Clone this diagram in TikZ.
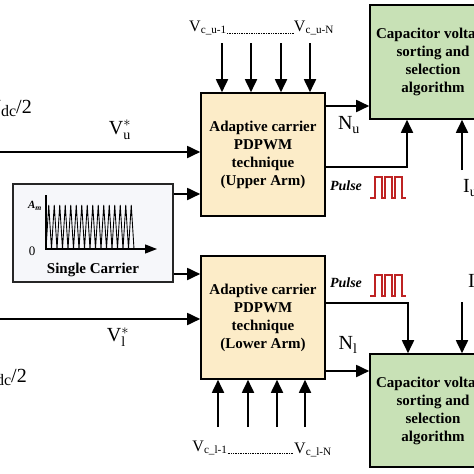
\documentclass[tikz,border=0pt]{standalone}
\usepackage{fontspec}
\setmainfont{Liberation Serif}
\usetikzlibrary{arrows.meta,calc}
\definecolor{yfill}{RGB}{252,236,200}
\definecolor{gfill}{RGB}{200,225,182}
\definecolor{pulsered}{RGB}{190,35,35}
\definecolor{cfill}{RGB}{246,247,250}
\tikzset{
  arr/.style={line width=1.8pt,-{Triangle[length=13pt,width=12pt]}},
  yblock/.style={draw,line width=1.6pt,fill=yfill,minimum width=124pt,minimum height=123pt,inner sep=0pt,align=center,font=\fontsize{15}{18}\selectfont\bfseries},
  gblock/.style={draw,line width=1.6pt,fill=gfill,minimum width=126pt,minimum height=114pt,inner sep=0pt,align=center,font=\fontsize{15}{18}\selectfont\bfseries},
  biglbl/.style={inner sep=0pt,font=\fontsize{20}{22}\selectfont},
  vclbl/.style={inner sep=0pt,font=\fontsize{16}{18}\selectfont},
  pulselbl/.style={inner sep=0pt,font=\fontsize{14}{16}\selectfont\bfseries\itshape},
  wave/.style={pulsered,line width=1.1pt},
}
\newcommand{\dcsub}{\raisebox{-3pt}{\fontsize{16}{16}\selectfont dc}}
\begin{document}
\begin{tikzpicture}[x=1pt,y=-1pt]
\useasboundingbox (0,0) rectangle (474,474);
\clip (0,0) rectangle (474,474);
\fill[white] (0,0) rectangle (474,474);

% main blocks
\node[yblock] (up) at (263,154.5) {Adaptive carrier\\PDPWM\\technique\\(Upper Arm)};
\node[yblock] (lo) at (263,317.5) {Adaptive carrier\\PDPWM\\technique\\(Lower Arm)};
\node[gblock] (gu) at (433,62) {Capacitor voltage\\sorting and\\selection\\algorithm};
\node[gblock,minimum height=113pt] (gl) at (433,410.5) {Capacitor voltage\\sorting and\\selection\\algorithm};

% carrier box
\node[draw=black!85,line width=1.3pt,fill=cfill,minimum width=160pt,minimum height=98pt,inner sep=0pt] (cb) at (93,233) {};
\coordinate (org) at (46,249);
\draw[line width=0.9pt] (org) \foreach \i in {0,...,15} { -- ++(2.75,-44) -- ++(2.75,44) };
\draw[line width=1.3pt,-{Triangle[length=12pt,width=9pt]}] (46,195) -- (org) -- (157,249);
\node[inner sep=0pt,font=\fontsize{11}{12}\selectfont\bfseries\itshape] (am) at (35,206) {A\textsubscript{m}};
\node[inner sep=0pt,font=\fontsize{13}{14}\selectfont] (zero) at (32,251) {0};
\node[inner sep=0pt,font=\fontsize{15}{17}\selectfont\bfseries] (sc) at (93,270) {Single Carrier};

% carrier to blocks
\coordinate (cy1) at (0,194);
\coordinate (cy2) at (0,274);
\draw[arr] (cb.east |- cy1) -- (up.west |- cy1);
\draw[arr] (cb.east |- cy2) -- (lo.west |- cy2);

% reference inputs
\coordinate (vuin) at (0,152);
\coordinate (vlin) at (0,319);
\draw[arr] (vuin) -- (up.west |- vuin);
\draw[arr] (vlin) -- (lo.west |- vlin);
\node[biglbl] (vu) at (120,130) {$\mathrm{V}^{*}_{\mathrm{u}}$};
\node[biglbl] (vl) at (118,337) {$\mathrm{V}^{*}_{\mathrm{l}}$};
\node[biglbl,anchor=east] (vdcu) at (32,108) {V\dcsub/2};
\node[biglbl,anchor=east] (vdcl) at (27,377) {V\dcsub/2};

% capacitor voltage inputs upper
\node[vclbl] (vcu1) at (208,28) {V\textsubscript{c\_u-1}};
\node[vclbl] (vcuN) at (314,28) {V\textsubscript{c\_u-N}};
\draw[densely dotted,line width=0.7pt] ([yshift=-5pt]vcu1.east) -- ([yshift=-5pt]vcuN.west);
\foreach \x [count=\k] in {222,251,281,310} {
  \coordinate (ua\k) at (\x,43);
  \draw[arr] (ua\k) -- (ua\k |- up.north);
}
% capacitor voltage inputs lower
\node[vclbl] (vcl1) at (210,448) {V\textsubscript{c\_l-1}};
\node[vclbl] (vclN) at (313,450) {V\textsubscript{c\_l-N}};
\draw[densely dotted,line width=0.7pt] ([yshift=-5pt]vcl1.east) -- ([yshift=-3pt]vclN.west);
\foreach \x [count=\k] in {218,248,277,305} {
  \coordinate (la\k) at (\x,427);
  \draw[arr] (la\k) -- (la\k |- lo.south);
}

% N outputs
\coordinate (nuy) at (0,106);
\coordinate (nly) at (0,371);
\draw[arr] (up.east |- nuy) -- (gu.west |- nuy);
\draw[arr] (lo.east |- nly) -- (gl.west |- nly);
\node[biglbl] (nu) at (349,125) {N\textsubscript{u}};
\node[biglbl] (nl) at (348,345) {N\textsubscript{l}};

% pulse paths
\coordinate (pu) at (407,167);
\coordinate (pl) at (408,303);
\draw[arr] (up.east |- pu) -- (pu) -- (pu |- gu.south);
\draw[arr] (lo.east |- pl) -- (pl) -- (pl |- gl.north);
\node[pulselbl] (plu) at (346,186) {Pulse};
\node[pulselbl] (pll) at (346,283) {Pulse};
\draw[wave] (370,198) -- (375,198) -- (375,177) -- (382,177) -- (382,198) -- (385,198) -- (385,177) -- (392,177) -- (392,198) -- (395,198) -- (395,177) -- (402,177) -- (402,198) -- (406,198);
\draw[wave] (370,296) -- (375,296) -- (375,275) -- (382,275) -- (382,296) -- (385,296) -- (385,275) -- (392,275) -- (392,296) -- (395,296) -- (395,275) -- (402,275) -- (402,296) -- (406,296);

% current inputs
\coordinate (iu) at (462,170);
\coordinate (il) at (462,302);
\draw[arr] (iu) -- (iu |- gu.south);
\draw[arr] (il) -- (il |- gl.north);
\node[biglbl,anchor=west] (iul) at (463,188) {I\textsubscript{u}};
\node[biglbl,anchor=west] (ill) at (468,283) {I\textsubscript{l}};
\end{tikzpicture}
\end{document}
